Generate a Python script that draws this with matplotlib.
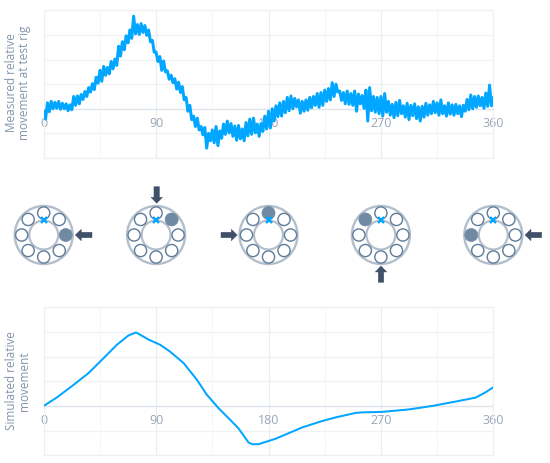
import matplotlib
matplotlib.use("Agg")
import matplotlib.pyplot as plt
from matplotlib.patches import Circle
import numpy as np

W, H = 550, 463
plt.rcParams['font.family'] = ['Open Sans', 'DejaVu Sans']

# measured signal, one value every 1.5 degrees
measured = [
    -0.1, -0.42, 0.24, -0.12, 0.3, 0.0, 0.26, 0.02, 0.3, -0.02, 0.22, 0.0, 0.2, -0.08, 0.16, -0.04, 0.5, 0.14, 0.52, 0.2,
    0.58, 0.38, 0.7, 0.5, 0.86, 0.68, 1.02, 0.78, 1.28, 1.04, 1.56, 1.12, 1.72, 1.36, 1.68, 1.42, 1.92, 1.62, 2.02, 1.76,
    2.54, 2.14, 2.72, 2.4, 2.96, 2.68, 3.2, 2.86, 3.76, 3.04, 3.42, 3.02, 3.46, 3.1, 3.38, 2.98, 3.2, 2.72, 2.78, 2.3,
    2.3, 1.92, 2.12, 1.56, 1.94, 1.5, 1.54, 1.2, 1.36, 1.06, 1.22, 0.8, 1.08, 0.66, 0.9, 0.36, 0.46, -0.1, 0.14, -0.44,
    -0.3, -0.72, -0.38, -0.86, -0.72, -1.06, -0.76, -1.6, -1.0, -1.3, -0.86, -1.38, -0.72, -1.5, -0.9, -1.2, -0.62, -1.04, -0.5, -0.98,
    -0.6, -1.12, -0.7, -1.28, -0.68, -1.22, -0.82, -1.3, -0.56, -1.1, -0.42, -1.04, -0.38, -0.98, -0.62, -1.12, -0.6, -0.92, -0.3, -0.82,
    -0.1, -0.78, 0.0, -0.5, 0.12, -0.32, 0.24, -0.3, 0.3, -0.16, 0.46, -0.08, 0.52, 0.0, 0.42, 0.08, 0.36, -0.18, 0.3, -0.1,
    0.36, -0.06, 0.46, 0.04, 0.5, 0.14, 0.62, 0.06, 0.66, 0.14, 0.76, 0.3, 0.82, 0.36, 1.06, 0.5, 1.0, 0.68, 0.72, 0.34,
    0.66, 0.2, 0.72, 0.18, 0.62, 0.14, 0.72, -0.1, 0.6, 0.2, 0.54, 0.02, 0.76, -0.5, 0.86, -0.08, 0.5, -0.14, 0.46, -0.2,
    0.5, -0.3, 0.62, -0.14, 0.3, -0.26, 0.18, -0.36, 0.26, -0.28, 0.34, -0.2, 0.12, -0.34, 0.22, -0.44, 0.14, -0.28, 0.2, -0.4,
    0.08, -0.5, 0.1, -0.34, 0.22, -0.26, 0.16, -0.2, 0.3, -0.16, 0.24, -0.26, 0.36, -0.2, 0.12, -0.3, 0.24, -0.22, 0.16, -0.26,
    0.18, -0.2, 0.12, -0.32, 0.14, -0.1, 0.38, -0.04, 0.56, 0.0, 0.5, 0.06, 0.52, 0.12, 0.46, 0.02, 0.64, 0.1, 0.96, 0.12, 0.44,
]
measured_x = np.linspace(0, 360, len(measured))

sim_x = [0, 10.4, 23.8, 35.8, 45.2, 58.6, 67.9, 74, 84, 93.3, 101, 112, 122.7, 130.7, 140, 149.5, 156, 164, 167, 172,
         185.6, 207, 223, 234, 250, 255, 271, 292.5, 311, 330, 346, 354, 360]
sim_y = [0, 0.34, 0.85, 1.33, 1.8, 2.48, 2.86, 2.98, 2.69, 2.48, 2.21, 1.74, 1.06, 0.45, -0.09, -0.57, -0.91, -1.48, -1.55, -1.55,
         -1.33, -0.87, -0.61, -0.46, -0.28, -0.26, -0.24, -0.14, 0.0, 0.18, 0.34, 0.56, 0.76]

major_x = [0, 90, 180, 270, 360]
minor_x = [45, 135, 225, 315]
grid_y = [-2, -1, 0, 1, 2, 3, 4]

BLUE = "#00a6ff"
LEFT, RIGHT = 43.7, 493.3
PX = 1 / 100 * 72  # points per pixel


def add_chart(fig, top, bottom, xs, ys, lw, label, label_y):
    ax = fig.add_axes([LEFT / W, 1 - bottom / H, (RIGHT - LEFT) / W, (bottom - top) / H])
    ax.set_xlim(0, 360)
    ax.set_ylim(-2, 4)
    for s in ax.spines.values():
        s.set_color("#eef0f4")
        s.set_linewidth(1.2 * PX)
    ax.set_xticks(major_x)
    ax.set_xticks(minor_x, minor=True)
    ax.set_yticks(grid_y)
    ax.set_xticklabels([])
    ax.set_yticklabels([])
    ax.tick_params(which="both", length=0)
    ax.grid(axis="y", color="#eff1f5", lw=1.2 * PX)
    ax.grid(axis="x", which="major", color="#e9ecf1", lw=1.2 * PX)
    ax.grid(axis="x", which="minor", color="#f5f6f8", lw=1 * PX)
    ax.set_axisbelow(True)
    ax.axhline(0, color="#dfe3ea", lw=1.3 * PX, zorder=1)
    for d in major_x:
        ax.text(d, -0.58, str(d), color="#9aa5b5", fontsize=9, ha="center", va="center", zorder=1.5)
    ax.plot(xs, ys, color=BLUE, lw=lw * PX, solid_joinstyle="round", zorder=3)
    fig.text(18 / W, 1 - label_y / H, label, rotation=90, color="#8394aa", fontsize=8.5,
             ha="center", va="center", linespacing=1.05, multialignment="center")
    return ax


def draw_bearing(ax, cx, cy, angle):
    ax.add_patch(Circle((cx, cy), 29, fill=False, ec="#b4bfcc", lw=2.4 * PX))
    ax.add_patch(Circle((cx, cy), 14.5, fill=False, ec="#b4bfcc", lw=2.2 * PX))
    for a in range(0, 360, 45):
        bx = cx + 22 * np.cos(np.radians(a))
        by = cy - 22 * np.sin(np.radians(a))
        if a == angle:
            ax.add_patch(Circle((bx, by), 6.5, fc="#718aa3", ec="#718aa3", lw=0.5, zorder=3))
        else:
            ax.add_patch(Circle((bx, by), 6.1, fc="white", ec="#617c99", lw=1.4 * PX, zorder=3))
    ax.plot([cx], [cy - 15], marker="x", ms=5, mew=2.4 * PX, color=BLUE, zorder=4)


fig = plt.figure(figsize=(W / 100, H / 100), dpi=100)

add_chart(fig, 10.3, 158, measured_x, measured, 3, "Measured relative\nmovement at test rig", 83)
add_chart(fig, 307.3, 455.3, sim_x, sim_y, 2, "Simulated relative\nmovement", 381)

# bearing positions between the two charts
over = fig.add_axes([0, 0, 1, 1])
over.set_xlim(0, W)
over.set_ylim(H, 0)
over.axis("off")
bearing_deg = [0, 90, 180, 270, 360]
ball_angle = [0, 45, 90, 135, 180]
arrow_from = [(92, 235), (156.7, 186.7), (221, 235), (381, 282.3), (541.7, 235)]
arrow_delta = [(-16.7, 0), (0, 16.6), (16.3, 0), (0, -16.3), (-16.7, 0)]

for d, a, st, dl in zip(bearing_deg, ball_angle, arrow_from, arrow_delta):
    cx = LEFT + d * (RIGHT - LEFT) / 360
    draw_bearing(over, cx, 235, a)
    over.arrow(st[0], st[1], dl[0], dl[1], width=5.5, head_width=11.5, head_length=6,
               length_includes_head=True, fc="#3f5068", ec="#3f5068", lw=0.3, zorder=5)

fig.savefig("out.png", dpi=100)
